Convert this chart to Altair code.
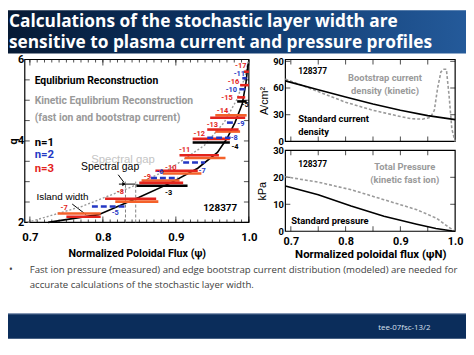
import altair as alt
import pandas as pd

W, H = 464, 333
NARROW = "Roboto, Liberation Sans, Arial, sans-serif"
SANS = "Liberation Sans, Arial, sans-serif"
SLIDE = "Open Sans, Lato, sans-serif"
RED, ORANGE, BLUE, GRAY = "#e3231c", "#f4612a", "#2438c4", "#9a9a9a"

# ---------------- text ----------------
title_text = "Calculations of the stochastic layer width are\nsensitive to plasma current and pressure profiles"
bullet_text = ("Fast ion pressure (measured) and edge bootstrap current distribution (modeled) are needed for\n"
               "accurate calculations of the stochastic layer width.")
footer_text = "tee-07fsc-13/2"

# ---------------- left panel: q profiles ----------------
LX_DOM, LY_DOM = [0.693, 1.0], [2, 6]
eq_psi = [0.725, 0.794, 0.849, 0.893, 0.930, 0.957, 0.970, 0.981, 0.991, 0.996, 0.999]
eq_q = [2.0, 2.19, 2.61, 2.97, 3.33, 3.72, 4.06, 4.45, 4.91, 5.42, 5.90]
kin_psi = [0.697, 0.771, 0.839, 0.893, 0.939, 0.966, 0.984, 0.995, 0.999]
kin_q = [2.0, 2.39, 2.87, 3.33, 3.89, 4.45, 5.03, 5.59, 5.95]

# island-width bars, n=3 equilibrium (red), n=3 kinetic (orange), n=1 (black), n=2 (blue dashed)
red_x1 = [0.750, 0.803, 0.850, 0.872, 0.905, 0.923, 0.943, 0.947, 0.984, 0.988, 0.993]
red_x2 = [0.797, 0.873, 0.910, 0.930, 0.959, 0.974, 0.986, 0.995, 0.995, 1.000, 1.000]
red_q = [2.14, 2.58, 2.97, 3.27, 3.65, 4.05, 4.28, 4.57, 5.07, 5.37, 5.70]
org_x1 = [0.738, 0.817, 0.853, 0.882, 0.912, 0.954, 0.954]
org_x2 = [0.797, 0.876, 0.905, 0.935, 0.968, 0.988, 0.997]
org_q = [2.22, 2.51, 3.03, 3.20, 3.58, 4.23, 4.63]
blk_x1 = [0.846, 0.923, 0.984]
blk_x2 = [0.916, 0.974, 0.997]
blk_q = [2.90, 3.96, 4.97]
blue_x1 = [0.785, 0.866, 0.910, 0.943, 0.970, 0.987, 0.991]
blue_x2 = [0.832, 0.903, 0.940, 0.975, 0.981, 0.995, 0.997]
blue_q = [2.39, 3.09, 3.47, 4.08, 4.45, 5.27, 5.54]

red_lab = ["-7", "-8", "-9", "-10", "-11", "-12", "-13", "-14", "-15", "-16", "-17"]
red_lab_psi = [0.747, 0.824, 0.861, 0.893, 0.912, 0.932, 0.950, 0.964, 0.970, 0.979, 0.989]
red_lab_q = [2.36, 2.75, 3.12, 3.33, 3.77, 4.16, 4.38, 4.74, 5.05, 5.44, 5.85]
blue_lab = ["-5", "-6", "-7", "-8", "-9", "-10", "-11"]
blue_lab_psi = [0.817, 0.878, 0.936, 0.980, 0.989, 0.976, 0.987]
blue_lab_q = [2.24, 3.24, 3.26, 4.06, 4.42, 5.25, 5.65]
black_lab = ["-3", "-4", "-5"]
black_lab_psi = [0.890, 0.981, 0.995]
black_lab_q = [2.73, 3.84, 4.88]

gap_psi = [0.831, 0.845]
gap_q = [2.0, 3.0]

eq_note = ["Equlibrium Reconstruction"]
kin_note = ["Kinetic Equlibrium Reconstruction", "(fast ion and bootstrap current)"]
note_psi = 0.7065
eq_note_q = [5.47]
kin_note_q = [4.98, 4.57]
n_labels = ["n=1", "n=2", "n=3"]
n_labels_q = [3.96, 3.65, 3.31]

# ---------------- right panels ----------------
RX_DOM, RTY_DOM, RBY_DOM = [0.69, 1.0], [0, 92], [0, 30]
j_std_psi = [0.69, 0.75, 0.80, 0.85, 0.90, 0.95, 1.0]
j_std = [68, 58, 50, 42, 35, 29, 24.5]
j_bs_psi = [0.69, 0.72, 0.75, 0.80, 0.85, 0.90, 0.92, 0.94, 0.955, 0.962, 0.968, 0.974, 0.978, 0.984, 0.989, 0.994, 1.0]
j_bs = [70, 63, 56, 44, 35, 28, 25.5, 25, 27, 35, 60, 78, 81, 81, 51, 14, 0]
p_std_psi = [0.69, 0.75, 0.81, 0.87, 0.93, 0.965, 0.995, 1.0]
p_std = [16.8, 13.5, 9.4, 5.6, 2.6, 1.0, 0.1, 0]
p_tot_psi = [0.69, 0.75, 0.81, 0.87, 0.93, 0.966, 0.985, 0.997, 1.0]
p_tot = [20.2, 18.2, 15.4, 11.7, 8.0, 4.8, 2.0, 0.3, 0]

# ---------------- scales & axes ----------------
def S(dom, rng):
    return alt.Scale(domain=dom, range=rng, nice=False, zero=False)

lx, ly = S(LX_DOM, [17, 244]), S(LY_DOM, [215, 50])
rx = S(RX_DOM, [281, 453])
rty, rby = S(RTY_DOM, [133, 50]), S(RBY_DOM, [224, 142])

common = dict(grid=False, domain=False, ticks=False, tickSize=0, labelFlush=False,
              labelOverlap=False, labelColor="black", titleColor="black")
lx_axis = alt.Axis(orient="bottom", offset=-118, values=[0.7, 0.8, 0.9, 1.0], format=".1f",
                   labelPadding=9, labelFont=NARROW, labelFontSize=11.5, labelFontWeight="bold",
                   title="Normalized Poloidal Flux (ψ)", titleFont=NARROW, titleFontSize=10.8,
                   titleFontWeight="bold", titlePadding=5, **common)
ly_axis = alt.Axis(orient="left", offset=-17, values=[2, 4, 6], labelPadding=1, labelFont=NARROW,
                   labelFontSize=11, labelFontWeight="bold", title="q", titleFont=NARROW,
                   titleFontSize=11, titleFontWeight="bold", titleX=-11, titleBaseline="middle",
                   **common)
rty_axis = alt.Axis(orient="left", offset=-281, values=[0, 30, 60, 90], labelPadding=2, labelFont=NARROW,
                    labelFontSize=9.5, labelFontWeight="bold", title="A/cm²", titleFont=SANS,
                    titleFontSize=11, titleFontWeight="normal", titlePadding=3, **common)
rby_axis = alt.Axis(orient="left", offset=-281, values=[0, 10, 20, 30], labelPadding=2, labelFont=NARROW,
                    labelFontSize=9.5, labelFontWeight="bold", title="kPa", titleFont=SANS,
                    titleFontSize=11, titleFontWeight="normal", titlePadding=5, **common)
rbx_axis = alt.Axis(orient="bottom", offset=-109, values=[0.7, 0.8, 0.9, 1.0], format=".1f",
                    labelPadding=4, labelFont=NARROW, labelFontSize=11, labelFontWeight="bold",
                    title="Normalized poloidal flux (ψN)", titleFont=NARROW, titleFontSize=11.5,
                    titleFontWeight="bold", titlePadding=3, **common)


class Panel:
    def __init__(self, xs, ys, xa, ya):
        self.xs, self.ys, self.xa, self.ya = xs, ys, xa, ya

    def enc(self, xf, yf, **kw):
        return dict(x=alt.X(xf, type="quantitative", scale=self.xs, axis=self.xa),
                    y=alt.Y(yf, type="quantitative", scale=self.ys, axis=self.ya), **kw)

    def frame(self, xd, yd):
        df = pd.DataFrame({"a": [xd[0]], "b": [xd[1]], "c": [yd[0]], "d": [yd[1]]})
        return alt.Chart(df).mark_rect(filled=False, stroke="black", strokeWidth=1.2).encode(
            **self.enc("a", "c", x2="b", y2="d"))

    def ticks(self, vals, const, along, size, off):
        if along == "x":
            df = pd.DataFrame({"tx": vals, "ty": [const] * len(vals)})
            m = alt.Chart(df).mark_tick(orient="vertical", size=size, thickness=1, color="black", yOffset=off)
        else:
            df = pd.DataFrame({"tx": [const] * len(vals), "ty": vals})
            m = alt.Chart(df).mark_tick(orient="horizontal", size=size, thickness=1, color="black", xOffset=off)
        return m.encode(**self.enc("tx", "ty"))

    def line(self, xs_, ys_, **mk):
        df = pd.DataFrame({"px": xs_, "py": ys_})
        return alt.Chart(df).mark_line(**mk).encode(**self.enc("px", "py"))

    def bars(self, x1, x2, yv, **mk):
        df = pd.DataFrame({"a": x1, "b": x2, "c": yv})
        return alt.Chart(df).mark_rule(**mk).encode(**self.enc("a", "c", x2="b"))

    def text(self, texts, xs_, ys_, **mk):
        df = pd.DataFrame({"tx": xs_, "ty": ys_, "t": texts})
        return alt.Chart(df).mark_text(baseline="middle", **mk).encode(
            **self.enc("tx", "ty", text="t"))


# ---------------- left panel ----------------
L = Panel(lx, ly, lx_axis, ly_axis)
minor_x = [round(0.70 + 0.01 * i, 2) for i in range(31)]
major_x = [0.7, 0.8, 0.9, 1.0]
left_y = [2 + 0.5 * i for i in range(9)]

gap_df = pd.DataFrame({"gx": gap_psi, "q1": [gap_q[0]] * 2, "q2": [gap_q[1]] * 2})
gap = alt.Chart(gap_df).mark_rule(color="#808080", strokeDash=[3, 2], strokeWidth=1).encode(
    **L.enc("gx", "q1", y2="q2"))
head_df = pd.DataFrame({"hx": [0.829], "hy": [2.94]})
head = alt.Chart(head_df).mark_point(shape="triangle-right", filled=True, size=18, color="black",
                                     opacity=1).encode(**L.enc("hx", "hy"))
ptr_df = pd.DataFrame({"px": [0.821, 0.829, 0.758, 0.777], "py": [3.17, 2.98, 2.45, 2.19],
                       "k": ["gap", "gap", "isl", "isl"]})
pointers = alt.Chart(ptr_df).mark_line(color="black", strokeWidth=1).encode(
    **L.enc("px", "py", detail="k:N"))

lab_style = dict(font=NARROW, fontSize=7.5, fontWeight="bold")
note_style = dict(align="left", font=NARROW, fontSize=10.5, fontWeight="bold")

left = alt.layer(
    L.frame(LX_DOM, LY_DOM),
    L.ticks(minor_x, 2, "x", 3, -1.5), L.ticks(minor_x, 6, "x", 3, 1.5),
    L.ticks(major_x, 2, "x", 6, -3), L.ticks(major_x, 6, "x", 6, 3),
    L.ticks(left_y, LX_DOM[0], "y", 5, 2.5), L.ticks(left_y, LX_DOM[1], "y", 5, -2.5),
    gap, L.bars([0.822], [0.845], [2.94], color="black", strokeWidth=1), head, pointers,
    L.line(kin_psi, kin_q, color=GRAY, strokeWidth=1.4, strokeDash=[2, 2]),
    L.line(eq_psi, eq_q, color="black", strokeWidth=1.6),
    L.bars(blk_x1, blk_x2, blk_q, color="black", strokeWidth=2.6),
    L.bars(org_x1, org_x2, org_q, color=ORANGE, strokeWidth=2.6),
    L.bars(red_x1, red_x2, red_q, color=RED, strokeWidth=2.6),
    L.bars(blue_x1, blue_x2, blue_q, color=BLUE, strokeWidth=2.6, strokeDash=[6, 3]),
    L.text(red_lab, red_lab_psi, red_lab_q, color=RED, **lab_style),
    L.text(blue_lab, blue_lab_psi, blue_lab_q, color=BLUE, **lab_style),
    L.text(black_lab, black_lab_psi, black_lab_q, color="black", **lab_style),
    L.text(eq_note, [note_psi], eq_note_q, color="black", **note_style),
    L.text(kin_note, [note_psi] * 2, kin_note_q, color=GRAY, **note_style),
    L.text(n_labels[:1], [note_psi], n_labels_q[:1], color="black", **dict(note_style, fontSize=11.5)),
    L.text(n_labels[1:2], [note_psi], n_labels_q[1:2], color=BLUE, **dict(note_style, fontSize=11.5)),
    L.text(n_labels[2:], [note_psi], n_labels_q[2:], color=RED, **dict(note_style, fontSize=11.5)),
    L.text(["Spectral gap"], [0.784], [3.53], align="left", font=SANS, fontSize=11.5, color="#c4c4c4"),
    L.text(["Spectral gap"], [0.770], [3.36], align="left", font=SANS, fontSize=10.5, color="black"),
    L.text(["Island width"], [0.709], [2.61], align="left", font=SANS, fontSize=10, color="black"),
    L.text(["128377"], [0.984], [2.34], align="right", font=NARROW, fontSize=10, fontWeight="bold", color="black"),
)

# ---------------- right top ----------------
RT = Panel(rx, rty, None, rty_axis)
rx_ticks = [0.70, 0.75, 0.80, 0.85, 0.90, 0.95]
rnote = dict(font=NARROW, fontSize=9.5, fontWeight="bold")
rt = alt.layer(
    RT.frame(RX_DOM, RTY_DOM),
    RT.ticks(rx_ticks, 0, "x", 5, -2.5), RT.ticks(rx_ticks, 92, "x", 5, 2.5),
    RT.ticks([30, 60, 90], RX_DOM[0], "y", 5, 2.5), RT.ticks([30, 60, 90], RX_DOM[1], "y", 5, -2.5),
    RT.line(j_bs_psi, j_bs, color=GRAY, strokeWidth=1.6, strokeDash=[3, 2]),
    RT.line(j_std_psi, j_std, color="black", strokeWidth=1.6),
    RT.text(["128377"], [0.7134], [78.7], align="left", color="black", **dict(rnote, fontSize=8.5)),
    RT.text(["Bootstrap current", "density (kinetic)"], [0.872, 0.872], [71, 56.5], align="center",
            color=GRAY, **rnote),
    RT.text(["Standard current", "density"], [0.7134, 0.7134], [25.5, 10], align="left",
            color="black", **rnote),
)

# ---------------- right bottom ----------------
RB = Panel(rx, rby, rbx_axis, rby_axis)
rb = alt.layer(
    RB.frame(RX_DOM, RBY_DOM),
    RB.ticks(rx_ticks, 0, "x", 5, -2.5), RB.ticks(rx_ticks, 30, "x", 5, 2.5),
    RB.ticks([10, 20], RX_DOM[0], "y", 5, 2.5), RB.ticks([10, 20], RX_DOM[1], "y", 5, -2.5),
    RB.line(p_tot_psi, p_tot, color=GRAY, strokeWidth=1.6, strokeDash=[3, 2]),
    RB.line(p_std_psi, p_std, color="black", strokeWidth=1.6),
    RB.text(["128377"], [0.7134], [24.9], align="left", color="black", **dict(rnote, fontSize=8.5)),
    RB.text(["Total Pressure", "(kinetic fast ion)"], [0.908, 0.908], [23.8, 19.0], align="center",
            color=GRAY, **rnote),
    RB.text(["Standard pressure"], [0.7008], [3.7], align="left", color="black", **rnote),
)

# ---------------- slide decorations ----------------
one = pd.DataFrame({"t": [title_text]})
grad = alt.LinearGradient(gradient="linear", x1=0, x2=1, y1=0, y2=0,
                          stops=[alt.GradientStop(offset=0, color="#071a34"),
                                 alt.GradientStop(offset=0.45, color="#0c3466"),
                                 alt.GradientStop(offset=1, color="#245a9a")])
title_bar = alt.Chart(one).mark_rect(fill=grad).encode(
    x=alt.value(0), x2=alt.value(W), y=alt.value(0), y2=alt.value(44))
title = alt.Chart(one).mark_text(align="left", baseline="alphabetic", font=SLIDE, fontSize=17.5,
                                 fontWeight="bold", color="white", lineBreak="\n", lineHeight=21).encode(
    x=alt.value(1), y=alt.value(17), text="t:N")

bdf = pd.DataFrame({"t": [bullet_text], "b": ["•"]})
bullet_dot = alt.Chart(bdf).mark_text(align="left", baseline="alphabetic", font=SLIDE, fontSize=10,
                                      color="#404040").encode(x=alt.value(1), y=alt.value(266), text="b:N")
bullet = alt.Chart(bdf).mark_text(align="left", baseline="alphabetic", font=SLIDE, fontSize=9.75,
                                  color="#404040", lineBreak="\n", lineHeight=15).encode(
    x=alt.value(22), y=alt.value(266), text="t:N")

fdf = pd.DataFrame({"t": [footer_text]})
footer_bar = alt.Chart(fdf).mark_rect(color="#0b2d5b").encode(
    x=alt.value(0), x2=alt.value(W), y=alt.value(307), y2=alt.value(H))
footer_line = alt.Chart(fdf).mark_rect(color="#9aaac4").encode(
    x=alt.value(0), x2=alt.value(W), y=alt.value(307), y2=alt.value(308))
footer = alt.Chart(fdf).mark_text(align="left", baseline="middle", font=SLIDE, fontSize=8,
                                  color="#d8e0ee").encode(x=alt.value(375), y=alt.value(322), text="t:N")

chart = alt.layer(
    title_bar, title, left, rt, rb, bullet_dot, bullet, footer_bar, footer_line, footer
).resolve_scale(x="independent", y="independent").resolve_axis(
    x="independent", y="independent"
).properties(
    width=W, height=H, autosize=alt.AutoSizeParams(type="none"), padding=0
).configure_view(strokeWidth=0)

chart.save("out.html", embed_options={"renderer": "svg", "actions": False})
